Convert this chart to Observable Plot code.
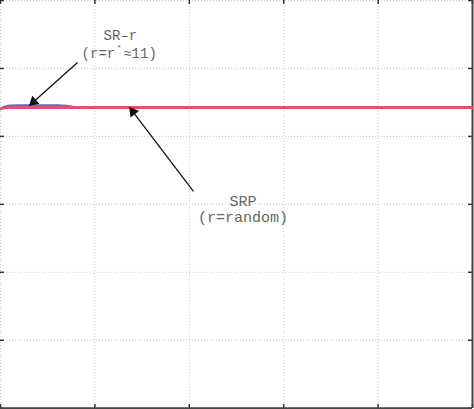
<!DOCTYPE html>
<html>
<head>
<meta charset="utf-8">
<script src="https://cdn.jsdelivr.net/npm/d3@7"></script>
<script src="https://cdn.jsdelivr.net/npm/@observablehq/plot@0.6"></script>
<style>
  html, body { margin: 0; padding: 0; background: #fff; }
  #chart svg { display: block; }
</style>
</head>
<body>
<div id="chart"></div>
<script>
// ---- data ----
const xTicks = [0, 100, 200, 300, 400, 500];
const yTicks = [0, 0.2, 0.4, 0.6, 0.8, 1.0, 1.2];

const srpX = [0, 4, 8, 100, 200, 300, 400, 500];
const srpY = [0.881, 0.884, 0.885, 0.885, 0.885, 0.885, 0.885, 0.885];

const srrX = [3, 10, 20, 40, 60, 70, 78];
const srrY = [0.885, 0.8895, 0.8905, 0.8905, 0.8903, 0.8885, 0.885];

// centred labels
const labelText = ["SR\u2013r", "SRP", "(r=random)"];
const labelX = [127, 257, 257];
const labelY = [1.097, 0.608, 0.561];
const labelSize = [14, 15, 15];
// the "(r=r* ≈11)" label, in three pieces
const rStarLeft = "(r=r", rStarSup = "*", rStarRight = "\u224811)";
const rStarLeftX = 121.5, rStarSupX = 125.8, rStarRightX = 130;
const rStarY = 1.044, rStarSupY = 1.063;

const arrowX1 = [81.6, 204.4];
const arrowY1 = [1.0175, 0.638];
const arrowX2 = [31.8, 137.7];
const arrowY2 = [0.894, 0.882];

// ---- build ----
const W = 474, H = 409;
const xRange = [0, 472], yRange = [407.7, 0];
const xs = d3.scaleLinear().domain([0, 500]).range(xRange);
const ys = d3.scaleLinear().domain([0, 1.2]).range(yRange);

const srp = srpX.map((x, i) => ({x, y: srpY[i]}));
const srr = srrX.map((x, i) => ({x, y: srrY[i]}));
const labels = labelText.map((t, i) => ({t, x: labelX[i], y: labelY[i], s: labelSize[i]}));
const arrows = arrowX1.map((x1, i) => {
  const px1 = xs(x1), py1 = ys(arrowY1[i]), px2 = xs(arrowX2[i]), py2 = ys(arrowY2[i]);
  const dx = px2 - px1, dy = py2 - py1, L = Math.hypot(dx, dy);
  const back = 4;
  return {
    x1, y1: arrowY1[i], x2: arrowX2[i], y2: arrowY2[i],
    hx: xs.invert(px2 - dx / L * back), hy: ys.invert(py2 - dy / L * back),
    ex: xs.invert(px2 - dx / L * 6), ey: ys.invert(py2 - dy / L * 6),
    rot: Math.atan2(dx, -dy) * 180 / Math.PI
  };
});

const font = "Liberation Mono, DejaVu Sans Mono, monospace";
const textFill = "#666";

const chart = Plot.plot({
  width: W,
  height: H,
  marginLeft: 0, marginRight: 2, marginTop: 0, marginBottom: 1,
  x: {domain: [0, 500], range: xRange, axis: null},
  y: {domain: [0, 1.2], range: yRange, axis: null},
  style: {background: "#fff"},
  marks: [
    Plot.gridX(xTicks, {stroke: "#c8c8c8", strokeOpacity: 1, strokeDasharray: "1,2"}),
    Plot.gridY(yTicks, {stroke: "#c8c8c8", strokeOpacity: 1, strokeDasharray: "1,2"}),
    // inward ticks
    Plot.tickY(yTicks, {y: d => d, insetRight: 468, stroke: "#333", strokeWidth: 1.5}),
    Plot.tickY(yTicks, {y: d => d, insetLeft: 468, stroke: "#333", strokeWidth: 1.5}),
    Plot.tickX(xTicks, {x: d => d, insetTop: 404, stroke: "#333", strokeWidth: 1.5}),
    Plot.tickX(xTicks, {x: d => d, insetBottom: 404, stroke: "#333", strokeWidth: 1.5}),
    // frame (right and bottom)
    Plot.ruleX([500], {stroke: "#444", strokeWidth: 2}),
    Plot.ruleY([0], {stroke: "#444", strokeWidth: 2}),
    // series
    Plot.line(srr, {x: "x", y: "y", stroke: "#4a6fd8", strokeWidth: 3, curve: "monotone-x"}),
    Plot.line(srp, {x: "x", y: "y", stroke: "#e2506f", strokeWidth: 3, curve: "monotone-x"}),
    // annotations
    Plot.link(arrows, {x1: "x1", y1: "y1", x2: "ex", y2: "ey", stroke: "#111", strokeWidth: 1.3}),
    Plot.dot(arrows, {x: "hx", y: "hy", symbol: "triangle", rotate: "rot", r: 4, fill: "#111", stroke: "none"}),
    Plot.text(labels, {x: "x", y: "y", text: "t", fontSize: d => d.s, fontFamily: font, fill: textFill, textAnchor: "middle"}),
    Plot.text([rStarLeft], {x: rStarLeftX, y: rStarY, text: d => d, fontSize: 14, fontFamily: font, fill: textFill, textAnchor: "end"}),
    Plot.text([rStarSup], {x: rStarSupX, y: rStarSupY, text: d => d, fontSize: 8, fontFamily: font, fill: textFill, textAnchor: "middle"}),
    Plot.text([rStarRight], {x: rStarRightX, y: rStarY, text: d => d, fontSize: 14, fontFamily: font, fill: textFill, textAnchor: "start"})
  ]
});
document.getElementById("chart").appendChild(chart);
</script>
</body>
</html>
